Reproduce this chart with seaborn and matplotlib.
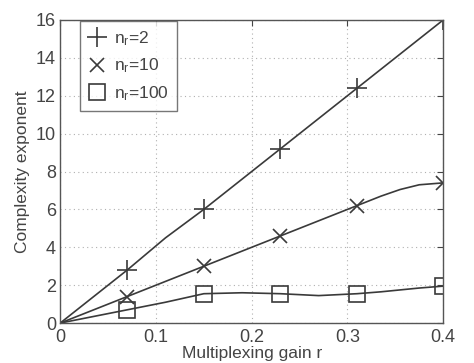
import numpy as np
import pandas as pd
import seaborn as sns
import matplotlib.pyplot as plt

# values
r = [0, 0.035, 0.07, 0.11, 0.15, 0.19, 0.23, 0.27, 0.31, 0.335, 0.355, 0.375, 0.4]
nr2 = [0, 1.4, 2.8, 4.5, 6.0, 7.6, 9.2, 10.8, 12.4, 13.4, 14.2, 15.0, 16.0]
nr10 = [0, 0.7, 1.4, 2.2, 3.0, 3.8, 4.6, 5.4, 6.2, 6.7, 7.05, 7.3, 7.4]
nr100 = [0, 0.35, 0.7, 1.1, 1.55, 1.6, 1.55, 1.45, 1.55, 1.65, 1.75, 1.85, 1.95]
labels = ['n$_r$=2', 'n$_r$=10', 'n$_r$=100']
marker_idx = [2, 4, 6, 8, 12]

sns.set_style('white')
plt.rcParams['font.family'] = ['Liberation Sans', 'DejaVu Sans']
plt.rcParams['mathtext.fontset'] = 'custom'
plt.rcParams['mathtext.rm'] = 'Liberation Sans'
plt.rcParams['mathtext.it'] = 'Liberation Sans'

df = pd.DataFrame({'r': r * 3,
                   'val': nr2 + nr10 + nr100,
                   'series': [labels[0]] * len(r) + [labels[1]] * len(r) + [labels[2]] * len(r)})

fig = plt.figure(figsize=(4.74, 3.63), dpi=100)
ax = fig.add_axes([0.127, 0.11, 0.808, 0.835])

col = '#3a3a3a'
styles = {labels[0]: dict(marker='+', markersize=14, markeredgewidth=1.2),
          labels[1]: dict(marker='x', markersize=10, markeredgewidth=1.2),
          labels[2]: dict(marker='s', markersize=12, markeredgewidth=1.2, markerfacecolor='none')}
for lab in labels:
    sub = df[df['series'] == lab]
    sns.lineplot(data=sub, x='r', y='val', ax=ax, color=col, linewidth=1.2,
                 markevery=marker_idx, markeredgecolor=col, label=lab, **styles[lab])

ax.set_xlim(0, 0.4)
ax.set_ylim(0, 16)
ax.set_xticks([0, 0.1, 0.2, 0.3, 0.4])
ax.set_xticklabels(['0', '0.1', '0.2', '0.3', '0.4'])
ax.set_yticks(range(0, 17, 2))
ax.grid(True, linestyle=(0, (1, 3)), color='#b0b0b0', linewidth=0.8)
ax.tick_params(direction='in', top=True, right=True, length=4, labelsize=13, colors='#444444', pad=2)
ax.tick_params(axis='x', pad=4)
ax.tick_params(axis='y', pad=3)
for s in ax.spines.values():
    s.set_color('#555555')
    s.set_linewidth(1.0)
ax.set_xlabel('Multiplexing gain r', fontsize=12.5, color='#444444', labelpad=0)
ax.set_ylabel('Complexity exponent', fontsize=12.5, color='#444444', labelpad=4)

leg = ax.legend(loc='upper left', bbox_to_anchor=(0.052, 0.995), fontsize=12.5, frameon=True,
                fancybox=False, edgecolor='#555555', handlelength=1.0, handletextpad=0.5,
                borderpad=0.45, labelspacing=0.5, borderaxespad=0)
leg.get_frame().set_linewidth(1.0)
for t in leg.get_texts():
    t.set_color('#444444')
for h in leg.legend_handles:
    h.set_linestyle('none')

fig.savefig('out.png', dpi=100)
